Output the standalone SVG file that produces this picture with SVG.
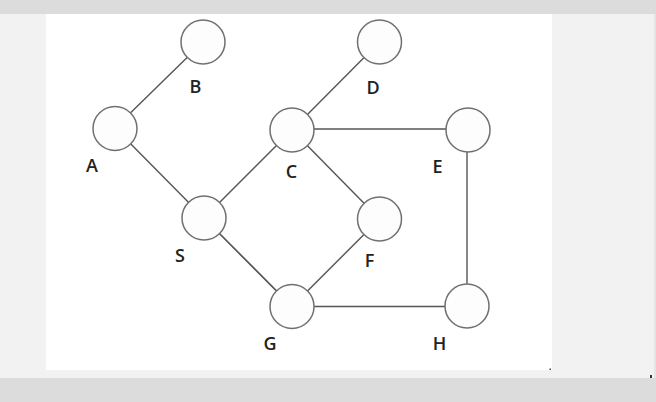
<svg xmlns="http://www.w3.org/2000/svg" width="656" height="402" viewBox="0 0 656 402">
<style>
.edge{stroke:#555;stroke-width:1.4;fill:none}
.node circle{fill:#fdfdfd;stroke:#707070;stroke-width:1.5}
.node text{font-family:"Open Sans","Noto Sans","Liberation Sans",sans-serif;font-size:18px;font-weight:600;fill:#222;text-anchor:middle}
</style>
<rect x="0" y="0" width="656" height="402" fill="#f2f2f2"/>
<rect x="0" y="0" width="656" height="14" fill="#dcdcdc"/>
<rect x="0" y="378" width="656" height="24" fill="#dcdcdc"/>
<rect x="654" y="14" width="2" height="364" fill="#e4e4e4"/>
<rect x="46" y="14" width="506" height="356" fill="#ffffff"/>
<g id="connectors">
<line class="edge" x1="115" y1="128" x2="203" y2="42"/>
<line class="edge" x1="115" y1="128" x2="204" y2="218"/>
<line class="edge" x1="204" y1="218" x2="292" y2="130"/>
<line class="edge" x1="204" y1="218" x2="292" y2="306.5" style="stroke-width:1.7"/>
<line class="edge" x1="292" y1="130" x2="379.5" y2="42"/>
<line class="edge" x1="292" y1="129" x2="468" y2="129"/>
<line class="edge" x1="292" y1="130" x2="379.5" y2="219"/>
<line class="edge" x1="379.5" y1="219" x2="292" y2="306.5"/>
<line class="edge" x1="292" y1="306.5" x2="467" y2="306.5"/>
<line class="edge" x1="467" y1="130" x2="467" y2="306"/>
</g>
<g id="node-B" class="node"><circle cx="203" cy="42" r="22"/><text x="195.5" y="93">B</text></g>
<g id="node-A" class="node"><circle cx="115" cy="128.5" r="22"/><text x="92" y="171.5">A</text></g>
<g id="node-D" class="node"><circle cx="379.5" cy="42" r="22"/><text x="373" y="94">D</text></g>
<g id="node-C" class="node"><circle cx="292" cy="130" r="22"/><text x="291.5" y="178">C</text></g>
<g id="node-E" class="node"><circle cx="468" cy="130" r="22"/><text x="437.5" y="173">E</text></g>
<g id="node-S" class="node"><circle cx="204" cy="218" r="22"/><text x="180" y="261.5">S</text></g>
<g id="node-F" class="node"><circle cx="379.5" cy="219" r="22"/><text x="369.5" y="267">F</text></g>
<g id="node-G" class="node"><circle cx="292" cy="306.5" r="22"/><text x="270" y="350">G</text></g>
<g id="node-H" class="node"><circle cx="467" cy="306" r="22"/><text x="439.5" y="350">H</text></g>
<rect x="549.5" y="368.5" width="1.5" height="1.5" fill="#444"/>
<rect x="650" y="375" width="2" height="3" fill="#333"/>
</svg>
